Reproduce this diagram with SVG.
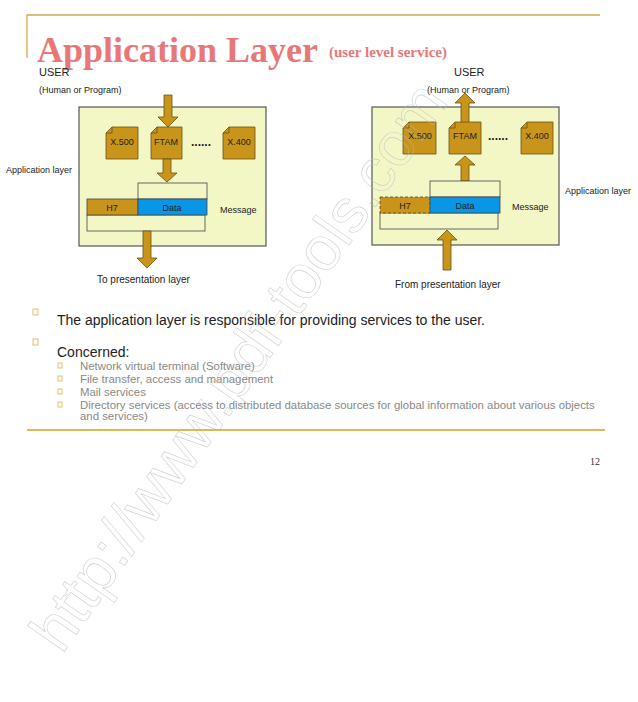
<svg xmlns="http://www.w3.org/2000/svg" width="638" height="702" viewBox="0 0 638 702">
<style>
.s{font-family:"Liberation Sans",Arial,sans-serif;fill:#222}
.bg{fill:#f3f7c6;stroke:#555;stroke-width:1.2}
.doc{fill:#c8951a;stroke:#6b5010;stroke-width:0.8}
.arr{fill:#c8951a;stroke:#6b5010;stroke-width:0.8}
.wb{fill:#f3f7c6;stroke:#444;stroke-width:0.8}
.h7{fill:#c8951a;stroke:#444;stroke-width:0.8}
.data{fill:#0a96e6;stroke:#444;stroke-width:0.8}
.lbl{font-family:"Liberation Sans",Arial,sans-serif;font-size:9px;fill:#222}
.bl{fill:none;stroke:#e0b040;stroke-width:0.8}
.sub{font-family:"Liberation Sans",Arial,sans-serif;font-size:11.4px;fill:#888}
</style>
<rect width="638" height="702" fill="#fff"/>
<path d="M27 58 V15 H600" fill="none" stroke="#d4a84a" stroke-width="1.3"/>
<text x="37" y="62" font-family="Liberation Serif,serif" font-size="36" font-weight="bold" fill="#e87878">Application Layer</text>
<text x="329" y="57" font-family="Liberation Serif,serif" font-size="15" font-weight="bold" fill="#e87878">(user level service)</text>

<g id="left">
<text class="s" x="39" y="76" font-size="11">USER</text>
<text class="lbl" x="39" y="93">(Human or Program)</text>
<text class="lbl" x="6" y="173">Application layer</text>
<rect class="bg" x="79" y="107" width="187" height="139"/>
<path class="arr" d="M164 95h8v22h6l-10 10l-10-10h6z"/>
<g id="l-x500"><path class="doc" d="M112 127h26v32h-32v-26z"/><path d="M106 133h6v-6" fill="none" stroke="#6b5010" stroke-width="0.8"/><text class="lbl" x="122" y="145" text-anchor="middle">X.500</text></g>
<g id="l-ftam"><path class="doc" d="M157 127h25v32h-31v-26z"/><path d="M151 133h6v-6" fill="none" stroke="#6b5010" stroke-width="0.8"/><text class="lbl" x="166" y="145" text-anchor="middle">FTAM</text></g>
<text class="s" x="201" y="146" font-size="12" font-weight="bold" text-anchor="middle">......</text>
<g id="l-x400"><path class="doc" d="M229 127h26v32h-32v-26z"/><path d="M223 133h6v-6" fill="none" stroke="#6b5010" stroke-width="0.8"/><text class="lbl" x="239" y="145" text-anchor="middle">X.400</text></g>
<path class="arr" d="M163 159h8v14h6l-10 9l-10-9h6z"/>
<g id="l-msg">
<rect class="wb" x="138" y="183" width="69" height="16"/>
<rect class="wb" x="87" y="215" width="118" height="16"/>
<rect class="h7" x="87" y="199" width="51" height="16"/>
<rect class="data" x="138" y="199" width="69" height="16"/>
<text class="lbl" x="112" y="211" text-anchor="middle">H7</text>
<text class="lbl" x="172" y="211" text-anchor="middle">Data</text>
<text class="lbl" x="220" y="213">Message</text>
</g>
<path class="arr" d="M143 231h8v27h6l-10 10l-10-10h6z"/>
<text class="s" x="97" y="283" font-size="10">To presentation layer</text>
</g>

<g id="right">
<text class="s" x="454" y="76" font-size="11">USER</text>
<text class="lbl" x="427" y="93">(Human or Program)</text>
<text class="lbl" x="565" y="194">Application layer</text>
<rect class="bg" x="372" y="107" width="187" height="138"/>
<path class="arr" d="M461 126h8v-23h6l-10-10l-10 10h6z"/>
<g id="r-x500"><path class="doc" d="M409 122h27v32h-33v-26z"/><path d="M403 128h6v-6" fill="none" stroke="#6b5010" stroke-width="0.8"/><text class="lbl" x="420" y="139" text-anchor="middle">X.500</text></g>
<g id="r-ftam"><path class="doc" d="M455 122h26v32h-32v-26z"/><path d="M449 128h6v-6" fill="none" stroke="#6b5010" stroke-width="0.8"/><text class="lbl" x="465" y="139" text-anchor="middle">FTAM</text></g>
<text class="s" x="498" y="140" font-size="12" font-weight="bold" text-anchor="middle">......</text>
<g id="r-x400"><path class="doc" d="M527 122h26v32h-32v-26z"/><path d="M521 128h6v-6" fill="none" stroke="#6b5010" stroke-width="0.8"/><text class="lbl" x="537" y="139" text-anchor="middle">X.400</text></g>
<path class="arr" d="M461 181h8v-16h6l-10-9l-10 9h6z"/>
<g id="r-msg">
<rect class="wb" x="430" y="181" width="70" height="16"/>
<rect class="wb" x="380" y="213" width="118" height="16"/>
<rect class="h7" x="380" y="197" width="50" height="16" stroke-dasharray="3,2"/>
<rect class="data" x="430" y="197" width="70" height="16"/>
<text class="lbl" x="405" y="209" text-anchor="middle">H7</text>
<text class="lbl" x="465" y="209" text-anchor="middle">Data</text>
<text class="lbl" x="512" y="210">Message</text>
</g>
<path class="arr" d="M443 270h8v-30h6l-10-10l-10 10h6z"/>
<text class="s" x="395" y="288" font-size="10">From presentation layer</text>
</g>

<g id="bullets">
<rect class="bl" x="33" y="309" width="5" height="6"/>
<text class="s" x="57" y="325" font-size="14">The application layer is responsible for providing services to the user.</text>
<rect class="bl" x="33" y="339" width="5" height="6"/>
<text class="s" x="57" y="357" font-size="14">Concerned:</text>
<rect class="bl" x="58" y="363" width="4" height="5"/>
<text class="sub" x="80" y="370">Network virtual terminal (Software)</text>
<rect class="bl" x="58" y="376" width="4" height="5"/>
<text class="sub" x="80" y="383">File transfer, access and management</text>
<rect class="bl" x="58" y="389" width="4" height="5"/>
<text class="sub" x="80" y="396">Mail services</text>
<rect class="bl" x="58" y="402" width="4" height="5"/>
<text class="sub" x="80" y="409">Directory services (access to distributed database sources for global information about various objects</text>
<text class="sub" x="80" y="420">and services)</text>
</g>
<line x1="27" y1="430" x2="605" y2="430" stroke="#d4a020" stroke-width="1.3"/>
<text x="600" y="465" font-family="Liberation Serif,serif" font-size="10" fill="#333" text-anchor="end">12</text>
<text x="0" y="0" transform="translate(62,655) rotate(-55)" font-family="Liberation Sans,Arial,sans-serif" font-size="62" fill="none" stroke="#bbb" stroke-width="0.6" opacity="0.7">http://www.pdf-tools.com</text>
</svg>
